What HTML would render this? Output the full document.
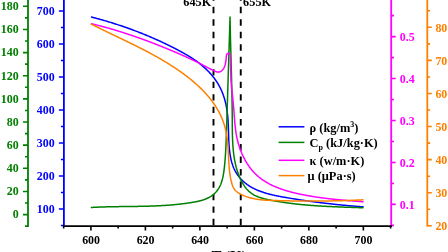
<!DOCTYPE html>
<html><head><meta charset="utf-8"><title>plot</title>
<style>html,body{margin:0;padding:0;background:#fff;overflow:hidden}svg{display:block;font-family:"Liberation Serif",serif;font-weight:bold;font-size:12.7px}</style></head><body>
<svg width="448" height="252" viewBox="0 0 448 252">
<rect width="448" height="252" fill="#fff"/>
<g stroke="#008000" stroke-width="1.6" fill="none"><path stroke-width="1.8" d="M28.0,-2V226.92"/><path d="M28.0,214.60h-5M28.0,191.46h-5M28.0,168.31h-5M28.0,145.17h-5M28.0,122.02h-5M28.0,98.88h-5M28.0,75.74h-5M28.0,52.59h-5M28.0,29.45h-5M28.0,6.30h-5M28.0,226.17h-3M28.0,203.03h-3M28.0,179.88h-3M28.0,156.74h-3M28.0,133.60h-3M28.0,110.45h-3M28.0,87.31h-3M28.0,64.16h-3M28.0,41.02h-3M28.0,17.88h-3M28.0,-5.27h-3"/></g>
<g fill="#008000" text-anchor="end"><text transform="translate(18.6 218.40) scale(.94 1)">0</text><text transform="translate(18.6 195.26) scale(.94 1)">20</text><text transform="translate(18.6 172.11) scale(.94 1)">40</text><text transform="translate(18.6 148.97) scale(.94 1)">60</text><text transform="translate(18.6 125.82) scale(.94 1)">80</text><text transform="translate(18.6 102.68) scale(.94 1)">100</text><text transform="translate(18.6 79.54) scale(.94 1)">120</text><text transform="translate(18.6 56.39) scale(.94 1)">140</text><text transform="translate(18.6 33.25) scale(.94 1)">160</text><text transform="translate(18.6 10.10) scale(.94 1)">180</text></g>
<g stroke="#0000ff" stroke-width="1.6" fill="none"><path stroke-width="1.8" d="M63.9,-2V226.8"/><path d="M63.9,209.00h-5M63.9,176.00h-5M63.9,143.00h-5M63.9,110.00h-5M63.9,77.00h-5M63.9,44.00h-5M63.9,11.00h-5M63.9,225.50h-3M63.9,192.50h-3M63.9,159.50h-3M63.9,126.50h-3M63.9,93.50h-3M63.9,60.50h-3M63.9,27.50h-3M63.9,-5.50h-3"/></g>
<g fill="#0000ff" text-anchor="end"><text transform="translate(54.6 213.35) scale(.94 1)">100</text><text transform="translate(54.6 180.35) scale(.94 1)">200</text><text transform="translate(54.6 147.35) scale(.94 1)">300</text><text transform="translate(54.6 114.35) scale(.94 1)">400</text><text transform="translate(54.6 81.35) scale(.94 1)">500</text><text transform="translate(54.6 48.35) scale(.94 1)">600</text><text transform="translate(54.6 15.35) scale(.94 1)">700</text></g>
<g stroke="#ff00ff" stroke-width="1.6" fill="none"><path stroke-width="1.8" d="M391.2,-2V226.8"/><path d="M391.2,204.40h4.5M391.2,162.45h4.5M391.2,120.50h4.5M391.2,78.55h4.5M391.2,36.60h4.5M391.2,225.38h2.8M391.2,183.43h2.8M391.2,141.48h2.8M391.2,99.53h2.8M391.2,57.58h2.8M391.2,15.62h2.8"/></g>
<g fill="#ff00ff"><text transform="translate(399.7 208.75) scale(.94 1)">0.1</text><text transform="translate(399.7 166.80) scale(.94 1)">0.2</text><text transform="translate(399.7 124.85) scale(.94 1)">0.3</text><text transform="translate(399.7 82.90) scale(.94 1)">0.4</text><text transform="translate(399.7 40.95) scale(.94 1)">0.5</text></g>
<g stroke="#ff8000" stroke-width="1.6" fill="none"><path stroke-width="1.8" d="M427.3,-2V226.55"/><path d="M427.3,225.80h4.5M427.3,192.72h4.5M427.3,159.64h4.5M427.3,126.56h4.5M427.3,93.48h4.5M427.3,60.40h4.5M427.3,27.32h4.5M427.3,209.26h2.8M427.3,176.18h2.8M427.3,143.10h2.8M427.3,110.02h2.8M427.3,76.94h2.8M427.3,43.86h2.8M427.3,10.78h2.8"/></g>
<g fill="#ff8000"><text transform="translate(435.4 230.15) scale(.94 1)">20</text><text transform="translate(435.4 197.07) scale(.94 1)">30</text><text transform="translate(435.4 163.99) scale(.94 1)">40</text><text transform="translate(435.4 130.91) scale(.94 1)">50</text><text transform="translate(435.4 97.83) scale(.94 1)">60</text><text transform="translate(435.4 64.75) scale(.94 1)">70</text><text transform="translate(435.4 31.67) scale(.94 1)">80</text></g>
<g stroke="#000" stroke-width="1.6" fill="none"><path stroke-width="1.9000000000000001" d="M63.05,226.1H392.05"/><path d="M90.90,226v4.6M145.39,226v4.6M199.88,226v4.6M254.37,226v4.6M308.86,226v4.6M363.35,226v4.6M63.66,226v2.4M118.15,226v2.4M172.63,226v2.4M227.12,226v2.4M281.62,226v2.4M336.11,226v2.4M390.60,226v2.4"/><path d="M213.50,-5.6V226" stroke-dasharray="6.4 6.07" stroke-width="1.9"/><path d="M240.75,-5.6V226" stroke-dasharray="6.4 6.07" stroke-width="1.9"/></g>
<g fill="#000" text-anchor="middle"><text transform="translate(91.10 244.35) scale(.94 1)">600</text><text transform="translate(145.59 244.35) scale(.94 1)">620</text><text transform="translate(200.08 244.35) scale(.94 1)">640</text><text transform="translate(254.57 244.35) scale(.94 1)">660</text><text transform="translate(309.06 244.35) scale(.94 1)">680</text><text transform="translate(363.55 244.35) scale(.94 1)">700</text><text x="211.5" y="261" style="font-size:15px" text-anchor="start">T (K)</text></g>
<text x="211.3" y="5.7" text-anchor="end" fill="#000" style="font-size:12.3px">645K</text><text x="243.1" y="5.7" fill="#000" style="font-size:12.3px">655K</text>
<g fill="none" stroke-width="1.5" stroke-linejoin="round" stroke-linecap="butt">
<path stroke="#0000ff" d="M90.90,16.91L91.62,17.10L92.35,17.29L93.07,17.47L93.80,17.66L94.52,17.85L95.25,18.04L95.97,18.24L96.70,18.43L97.42,18.63L98.14,18.82L98.86,19.02L99.59,19.22L100.31,19.42L101.03,19.62L101.75,19.83L102.47,20.03L103.19,20.24L103.91,20.45L104.63,20.65L105.35,20.86L106.07,21.08L106.79,21.29L107.51,21.50L108.23,21.72L108.95,21.93L109.66,22.15L110.38,22.37L111.10,22.59L111.81,22.81L112.53,23.03L113.24,23.26L113.96,23.48L114.67,23.71L115.39,23.94L116.10,24.17L116.82,24.40L117.53,24.63L118.24,24.86L118.95,25.10L119.66,25.34L120.38,25.57L121.09,25.81L121.80,26.05L122.51,26.29L123.22,26.53L123.93,26.78L124.63,27.02L125.34,27.27L126.05,27.52L126.76,27.77L127.46,28.02L128.17,28.27L128.87,28.52L129.58,28.77L130.28,29.03L130.99,29.29L131.69,29.54L132.40,29.80L133.10,30.06L133.80,30.33L134.50,30.59L135.20,30.85L135.91,31.12L136.61,31.39L137.31,31.65L138.00,31.92L138.70,32.19L139.40,32.47L140.10,32.74L140.80,33.02L141.49,33.29L142.19,33.57L142.88,33.85L143.58,34.13L144.27,34.41L144.97,34.69L145.66,34.97L146.35,35.26L147.05,35.55L147.74,35.83L148.43,36.12L149.12,36.41L149.81,36.70L150.50,37.00L151.19,37.29L151.88,37.59L152.56,37.88L153.25,38.18L153.94,38.48L154.62,38.78L155.31,39.08L155.99,39.39L156.68,39.69L157.36,40.00L158.04,40.30L158.73,40.61L159.41,40.92L160.09,41.23L160.77,41.55L161.45,41.86L162.13,42.18L162.81,42.49L163.48,42.81L164.16,43.13L164.84,43.45L165.51,43.77L166.19,44.10L166.86,44.42L167.53,44.75L168.21,45.08L168.88,45.41L169.55,45.74L170.22,46.07L170.89,46.41L171.56,46.74L172.23,47.08L172.90,47.42L173.56,47.76L174.23,48.10L174.90,48.45L175.56,48.79L176.23,49.14L176.89,49.49L177.55,49.84L178.21,50.19L178.87,50.55L179.53,50.90L180.19,51.26L180.85,51.62L181.51,51.98L182.17,52.34L182.82,52.70L183.48,53.07L184.13,53.44L184.78,53.81L185.44,54.18L186.09,54.55L186.74,54.93L187.39,55.31L188.03,55.69L188.68,56.07L189.32,56.46L189.96,56.85L190.60,57.25L191.24,57.64L191.87,58.05L192.50,58.45L193.13,58.86L193.76,59.28L194.38,59.69L195.00,60.12L195.62,60.55L196.24,60.98L196.85,61.42L197.46,61.86L198.06,62.31L198.66,62.76L199.26,63.22L199.85,63.68L200.44,64.15L201.03,64.62L201.61,65.10L202.19,65.59L202.76,66.08L203.33,66.57L203.90,67.07L204.46,67.57L205.01,68.08L205.56,68.59L206.11,69.11L206.65,69.64L207.18,70.17L207.71,70.70L208.24,71.24L208.76,71.78L209.27,72.33L209.78,72.88L210.28,73.44L210.78,74.00L211.27,74.56L211.76,75.13L212.24,75.71L212.71,76.29L213.17,76.87L213.63,77.46L214.09,78.06L214.54,78.65L214.97,79.26L215.41,79.86L215.83,80.48L216.25,81.09L216.67,81.71L217.07,82.34L217.47,82.96L217.86,83.60L218.24,84.23L218.61,84.88L218.98,85.52L219.34,86.17L219.69,86.83L220.03,87.48L220.37,88.15L220.70,88.81L221.01,89.48L221.32,90.16L221.63,90.84L221.92,91.52L222.20,92.21L222.48,92.90L222.75,93.59L223.01,94.29L223.26,94.99L223.51,95.69L223.75,96.40L223.98,97.11L224.20,97.82L224.42,98.53L224.63,99.25L224.83,99.97L225.02,100.69L225.21,101.42L225.39,102.15L225.57,102.88L225.74,103.61L225.90,104.34L226.06,105.07L226.21,105.81L226.35,106.55L226.49,107.29L226.62,108.03L226.75,108.77L226.87,109.52L226.98,110.26L227.09,111.01L227.19,111.76L227.29,112.50L227.39,113.25L227.48,114.00L227.56,114.75L227.64,115.50L227.71,116.25L227.78,117.00L227.85,117.75L227.91,118.50L227.96,119.25L228.02,120.00L228.07,120.75L228.11,121.50L228.15,122.25L228.19,123.00L228.23,123.75L228.26,124.50L228.30,125.25L228.33,126.00L228.35,126.75L228.38,127.50L228.41,128.25L228.43,129.00L228.45,129.75L228.47,130.50L228.50,131.25L228.52,132.00L228.54,132.75L228.56,133.50L228.58,134.25L228.60,135.00L228.63,135.75L228.65,136.50L228.68,137.26L228.70,138.01L228.73,138.76L228.76,139.51L228.79,140.26L228.83,141.01L228.86,141.76L228.90,142.51L228.95,143.26L228.99,144.01L229.04,144.77L229.10,145.52L229.15,146.27L229.21,147.02L229.28,147.77L229.35,148.52L229.42,149.28L229.50,150.03L229.59,150.78L229.68,151.53L229.77,152.28L229.88,153.04L229.98,153.79L230.10,154.54L230.22,155.29L230.35,156.04L230.48,156.79L230.62,157.53L230.78,158.27L230.93,159.02L231.10,159.75L231.28,160.49L231.46,161.22L231.66,161.95L231.86,162.68L232.08,163.40L232.30,164.11L232.54,164.82L232.78,165.53L233.04,166.23L233.31,166.93L233.58,167.62L233.88,168.30L234.18,168.97L234.50,169.64L234.83,170.31L235.17,170.96L235.52,171.61L235.89,172.25L236.27,172.88L236.66,173.50L237.06,174.12L237.48,174.73L237.90,175.32L238.34,175.91L238.79,176.50L239.25,177.07L239.72,177.63L240.19,178.19L240.68,178.74L241.18,179.27L241.69,179.80L242.20,180.32L242.73,180.83L243.26,181.33L243.81,181.82L244.36,182.30L244.92,182.77L245.48,183.23L246.06,183.68L246.64,184.12L247.22,184.55L247.82,184.97L248.42,185.38L249.03,185.78L249.64,186.17L250.27,186.55L250.89,186.92L251.53,187.29L252.17,187.65L252.81,187.99L253.47,188.33L254.12,188.67L254.79,188.99L255.45,189.31L256.13,189.61L256.81,189.91L257.49,190.21L258.18,190.49L258.87,190.77L259.56,191.05L260.26,191.31L260.97,191.57L261.68,191.82L262.39,192.07L263.11,192.31L263.83,192.55L264.55,192.77L265.28,193.00L266.00,193.22L266.74,193.43L267.47,193.64L268.21,193.84L268.95,194.04L269.69,194.23L270.44,194.42L271.18,194.60L271.93,194.78L272.68,194.96L273.43,195.13L274.19,195.30L274.94,195.46L275.70,195.62L276.46,195.78L277.21,195.94L277.97,196.09L278.73,196.24L279.49,196.38L280.25,196.53L281.01,196.67L281.77,196.81L282.53,196.95L283.29,197.08L284.05,197.22L284.81,197.35L285.56,197.48L286.32,197.61L287.08,197.74L287.83,197.87L288.58,198.00L289.34,198.12L290.09,198.25L290.84,198.37L291.59,198.50L292.34,198.62L293.08,198.74L293.83,198.86L294.57,198.98L295.32,199.10L296.06,199.22L296.81,199.34L297.55,199.45L298.29,199.57L299.03,199.68L299.77,199.80L300.51,199.91L301.25,200.02L301.99,200.13L302.72,200.24L303.46,200.35L304.19,200.46L304.93,200.57L305.67,200.68L306.40,200.78L307.13,200.89L307.87,200.99L308.60,201.10L309.33,201.20L310.07,201.30L310.80,201.40L311.53,201.50L312.26,201.60L312.99,201.70L313.72,201.80L314.46,201.90L315.19,201.99L315.92,202.09L316.65,202.18L317.38,202.28L318.11,202.37L318.84,202.47L319.57,202.56L320.30,202.65L321.03,202.74L321.76,202.83L322.49,202.92L323.22,203.01L323.95,203.10L324.68,203.18L325.41,203.27L326.14,203.36L326.88,203.44L327.61,203.53L328.34,203.61L329.07,203.69L329.80,203.77L330.54,203.86L331.27,203.94L332.01,204.02L332.74,204.10L333.48,204.18L334.21,204.26L334.95,204.33L335.68,204.41L336.42,204.49L337.16,204.56L337.90,204.64L338.64,204.71L339.38,204.79L340.12,204.86L340.86,204.93L341.60,205.01L342.34,205.08L343.09,205.15L343.83,205.22L344.58,205.29L345.32,205.36L346.07,205.43L346.82,205.49L347.57,205.56L348.32,205.63L349.07,205.70L349.82,205.76L350.58,205.83L351.33,205.89L352.09,205.96L352.84,206.02L353.60,206.08L354.36,206.15L355.12,206.21L355.88,206.27L356.65,206.33L357.41,206.39L358.18,206.45L358.94,206.51L359.71,206.57L360.48,206.63L361.25,206.69L362.03,206.74L362.80,206.80L363.58,206.86"/>
<path stroke="#008000" d="M90.80,207.51L91.42,207.47L92.04,207.44L92.66,207.40L93.28,207.37L93.91,207.34L94.53,207.31L95.15,207.28L95.77,207.25L96.38,207.22L97.00,207.19L97.62,207.17L98.24,207.14L98.86,207.11L99.48,207.09L100.09,207.07L100.71,207.04L101.33,207.02L101.94,207.00L102.56,206.98L103.17,206.96L103.79,206.94L104.40,206.92L105.02,206.90L105.63,206.89L106.25,206.87L106.86,206.85L107.47,206.84L108.09,206.82L108.70,206.81L109.31,206.79L109.92,206.78L110.54,206.77L111.15,206.75L111.76,206.74L112.37,206.73L112.98,206.72L113.59,206.71L114.21,206.70L114.82,206.69L115.43,206.68L116.04,206.67L116.65,206.66L117.26,206.65L117.87,206.64L118.48,206.63L119.09,206.62L119.69,206.61L120.30,206.60L120.91,206.60L121.52,206.59L122.13,206.58L122.74,206.57L123.35,206.57L123.95,206.56L124.56,206.55L125.17,206.55L125.78,206.54L126.39,206.53L126.99,206.52L127.60,206.52L128.21,206.51L128.81,206.50L129.42,206.50L130.03,206.49L130.64,206.48L131.24,206.48L131.85,206.47L132.46,206.46L133.06,206.45L133.67,206.44L134.28,206.44L134.88,206.43L135.49,206.42L136.10,206.41L136.70,206.40L137.31,206.39L137.91,206.38L138.52,206.37L139.13,206.36L139.73,206.35L140.34,206.34L140.95,206.33L141.55,206.32L142.16,206.31L142.77,206.30L143.37,206.28L143.98,206.27L144.59,206.26L145.19,206.24L145.80,206.23L146.41,206.21L147.01,206.20L147.62,206.18L148.23,206.16L148.83,206.14L149.44,206.13L150.05,206.11L150.66,206.09L151.26,206.07L151.87,206.05L152.48,206.03L153.09,206.00L153.69,205.98L154.30,205.96L154.91,205.93L155.52,205.91L156.13,205.88L156.73,205.86L157.34,205.83L157.95,205.80L158.56,205.77L159.17,205.74L159.78,205.71L160.39,205.68L161.00,205.64L161.61,205.61L162.22,205.58L162.83,205.54L163.44,205.50L164.05,205.47L164.66,205.43L165.27,205.39L165.88,205.35L166.49,205.31L167.10,205.26L167.72,205.22L168.33,205.17L168.94,205.13L169.55,205.08L170.17,205.03L170.78,204.98L171.39,204.93L172.01,204.88L172.62,204.82L173.23,204.77L173.85,204.71L174.46,204.66L175.08,204.60L175.69,204.54L176.31,204.48L176.93,204.41L177.54,204.35L178.16,204.29L178.78,204.22L179.39,204.15L180.01,204.08L180.63,204.01L181.25,203.94L181.87,203.86L182.49,203.79L183.10,203.71L183.72,203.63L184.34,203.55L184.97,203.47L185.59,203.39L186.21,203.30L186.83,203.21L187.45,203.13L188.07,203.04L188.70,202.94L189.32,202.85L189.94,202.76L190.57,202.66L191.19,202.56L191.82,202.46L192.44,202.36L193.07,202.25L193.69,202.14L194.31,202.03L194.93,201.92L195.55,201.80L196.17,201.68L196.79,201.55L197.40,201.42L198.02,201.29L198.63,201.15L199.23,201.00L199.84,200.85L200.44,200.70L201.04,200.54L201.63,200.37L202.22,200.20L202.80,200.01L203.39,199.83L203.96,199.63L204.53,199.43L205.10,199.22L205.66,199.00L206.21,198.78L206.76,198.54L207.30,198.30L207.84,198.05L208.37,197.79L208.89,197.52L209.40,197.24L209.91,196.95L210.41,196.65L210.90,196.34L211.38,196.02L211.86,195.69L212.32,195.35L212.78,195.00L213.23,194.64L213.67,194.26L214.10,193.88L214.52,193.49L214.94,193.09L215.34,192.68L215.74,192.26L216.12,191.84L216.50,191.40L216.86,190.95L217.22,190.50L217.56,190.03L217.90,189.56L218.22,189.08L218.54,188.60L218.84,188.10L219.14,187.60L219.42,187.08L219.69,186.56L219.95,186.04L220.20,185.50L220.45,184.96L220.68,184.42L220.90,183.86L221.12,183.31L221.32,182.74L221.52,182.17L221.71,181.59L221.89,181.01L222.06,180.43L222.23,179.84L222.39,179.24L222.54,178.64L222.68,178.04L222.82,177.43L222.96,176.82L223.08,176.21L223.20,175.60L223.32,174.98L223.43,174.36L223.53,173.73L223.63,173.11L223.73,172.48L223.82,171.85L223.91,171.23L223.99,170.59L224.07,169.96L224.15,169.33L224.23,168.70L224.30,168.07L224.37,167.44L224.44,166.81L224.50,166.18L224.57,165.55L224.63,164.92L224.69,164.29L224.75,163.67L224.81,163.04L224.86,162.42L224.92,161.79L224.97,161.17L225.02,160.55L225.07,159.93L225.12,159.31L225.17,158.69L225.22,158.07L225.26,157.45L225.31,156.83L225.35,156.21L225.39,155.60L225.43,154.98L225.47,154.37L225.51,153.75L225.55,153.14L225.58,152.52L225.62,151.91L225.65,151.30L225.69,150.69L225.72,150.07L225.75,149.46L225.78,148.85L225.81,148.24L225.84,147.63L225.87,147.02L225.90,146.41L225.93,145.80L225.95,145.19L225.98,144.59L226.00,143.98L226.03,143.37L226.05,142.76L226.08,142.15L226.10,141.55L226.12,140.94L226.15,140.33L226.17,139.72L226.19,139.12L226.21,138.51L226.23,137.90L226.25,137.30L226.28,136.69L226.30,136.08L226.32,135.48L226.34,134.87L226.36,134.26L226.38,133.66L226.40,133.05L226.42,132.44L226.44,131.84L226.46,131.23L226.48,130.62L226.50,130.01L226.52,129.41L226.54,128.80L226.56,128.19L226.58,127.58L226.60,126.97L226.62,126.37L226.64,125.76L226.66,125.15L226.68,124.54L226.70,123.93L226.72,123.32L226.74,122.71L226.76,122.11L226.78,121.50L226.80,120.89L226.82,120.28L226.84,119.67L226.86,119.06L226.88,118.45L226.90,117.84L226.92,117.23L226.94,116.62L226.96,116.01L226.98,115.40L227.00,114.79L227.02,114.18L227.04,113.57L227.06,112.96L227.08,112.35L227.10,111.74L227.12,111.13L227.14,110.52L227.16,109.91L227.18,109.30L227.20,108.69L227.21,108.08L227.23,107.47L227.25,106.86L227.27,106.25L227.29,105.64L227.31,105.03L227.33,104.42L227.35,103.80L227.37,103.19L227.39,102.58L227.41,101.97L227.43,101.36L227.45,100.75L227.47,100.14L227.49,99.53L227.51,98.91L227.53,98.30L227.55,97.69L227.57,97.08L227.59,96.47L227.60,95.86L227.62,95.24L227.64,94.63L227.66,94.02L227.68,93.41L227.70,92.80L227.72,92.18L227.74,91.57L227.76,90.96L227.78,90.35L227.80,89.74L227.82,89.12L227.84,88.51L227.86,87.90L227.87,87.29L227.89,86.67L227.91,86.06L227.93,85.45L227.95,84.84L227.97,84.23L227.99,83.61L228.01,83.00L228.03,82.39L228.05,81.77L228.07,81.16L228.09,80.55L228.10,79.94L228.12,79.32L228.14,78.71L228.16,78.10L228.18,77.49L228.20,76.87L228.22,76.26L228.24,75.65L228.26,75.04L228.28,74.42L228.30,73.81L228.31,73.20L228.33,72.58L228.35,71.97L228.37,71.36L228.39,70.75L228.41,70.13L228.43,69.52L228.45,68.91L228.47,68.29L228.49,67.68L228.50,67.07L228.52,66.46L228.54,65.84L228.56,65.23L228.58,64.62L228.60,64.00L228.62,63.39L228.64,62.78L228.66,62.17L228.68,61.55L228.69,60.94L228.71,60.33L228.73,59.71L228.75,59.10L228.77,58.49L228.79,57.88L228.81,57.26L228.83,56.65L228.85,56.04L228.86,55.42L228.88,54.81L228.90,54.20L228.92,53.59L228.94,52.97L228.96,52.36L228.98,51.75L229.00,51.14L229.02,50.52L229.03,49.91L229.05,49.30L229.07,48.69L229.09,48.07L229.11,47.46L229.13,46.85L229.15,46.24L229.17,45.62L229.18,45.01L229.20,44.40L229.22,43.79L229.24,43.17L229.26,42.56L229.28,41.95L229.30,41.34L229.32,40.73L229.34,40.11L229.35,39.50L229.37,38.89L229.39,38.28L229.41,37.67L229.43,37.06L229.45,36.44L229.47,35.83L229.49,35.22L229.50,34.61L229.52,34.00L229.54,33.39L229.56,32.77L229.58,32.16L229.60,31.55L229.62,30.94L229.64,30.33L229.65,29.72L229.67,29.11L229.69,28.50L229.71,27.89L229.73,27.27L229.75,26.66L229.77,26.05L229.79,25.44L229.81,24.83L229.82,24.22L229.84,23.61L229.86,23.00L229.88,22.39L229.90,21.78L229.92,21.17L229.94,20.56L229.96,19.95L229.97,19.34L229.99,18.73L230.01,18.12L230.03,17.51L230.05,16.90L230.05,16.90L230.06,17.50L230.07,18.10L230.08,18.70L230.09,19.30L230.10,19.90L230.11,20.50L230.12,21.10L230.13,21.70L230.14,22.30L230.15,22.90L230.16,23.50L230.17,24.10L230.18,24.69L230.20,25.29L230.21,25.89L230.22,26.49L230.23,27.08L230.24,27.68L230.25,28.27L230.27,28.87L230.28,29.47L230.29,30.06L230.30,30.66L230.32,31.25L230.33,31.84L230.34,32.44L230.36,33.03L230.37,33.63L230.38,34.22L230.40,34.81L230.41,35.41L230.42,36.00L230.44,36.59L230.45,37.18L230.47,37.78L230.48,38.37L230.50,38.96L230.51,39.55L230.52,40.14L230.54,40.74L230.55,41.33L230.57,41.92L230.58,42.51L230.60,43.10L230.61,43.69L230.63,44.28L230.64,44.87L230.66,45.46L230.67,46.05L230.69,46.64L230.71,47.23L230.72,47.82L230.74,48.41L230.75,48.99L230.77,49.58L230.78,50.17L230.80,50.76L230.82,51.35L230.83,51.94L230.85,52.53L230.86,53.11L230.88,53.70L230.89,54.29L230.91,54.88L230.93,55.46L230.94,56.05L230.96,56.64L230.98,57.23L230.99,57.81L231.01,58.40L231.02,58.99L231.04,59.58L231.06,60.16L231.07,60.75L231.09,61.34L231.10,61.92L231.12,62.51L231.14,63.10L231.15,63.68L231.17,64.27L231.19,64.86L231.20,65.44L231.22,66.03L231.23,66.62L231.25,67.20L231.27,67.79L231.28,68.37L231.30,68.96L231.31,69.55L231.33,70.13L231.35,70.72L231.36,71.31L231.38,71.89L231.39,72.48L231.41,73.07L231.42,73.65L231.44,74.24L231.46,74.82L231.47,75.41L231.49,76.00L231.50,76.58L231.52,77.17L231.53,77.76L231.55,78.34L231.56,78.93L231.58,79.52L231.59,80.10L231.61,80.69L231.62,81.28L231.64,81.86L231.65,82.45L231.67,83.04L231.68,83.63L231.70,84.21L231.71,84.80L231.72,85.39L231.74,85.97L231.75,86.56L231.77,87.15L231.78,87.74L231.79,88.33L231.81,88.91L231.82,89.50L231.83,90.09L231.85,90.68L231.86,91.27L231.87,91.85L231.88,92.44L231.90,93.03L231.91,93.62L231.92,94.21L231.93,94.80L231.94,95.39L231.96,95.98L231.97,96.57L231.98,97.16L231.99,97.75L232.00,98.34L232.01,98.93L232.02,99.52L232.04,100.11L232.05,100.70L232.06,101.29L232.07,101.88L232.08,102.47L232.09,103.07L232.10,103.66L232.11,104.25L232.11,104.84L232.12,105.43L232.13,106.03L232.14,106.62L232.15,107.21L232.16,107.81L232.17,108.40L232.17,108.99L232.18,109.59L232.19,110.18L232.20,110.78L232.20,111.37L232.21,111.97L232.22,112.56L232.22,113.16L232.23,113.75L232.24,114.35L232.24,114.95L232.25,115.54L232.25,116.14L232.26,116.74L232.26,117.33L232.27,117.93L232.27,118.53L232.28,119.13L232.28,119.73L232.28,120.33L232.29,120.92L232.29,121.52L232.29,122.12L232.30,122.72L232.30,123.32L232.30,123.92L232.30,124.53L232.31,125.13L232.31,125.73L232.32,126.33L232.32,126.93L232.32,127.53L232.33,128.13L232.33,128.73L232.34,129.33L232.35,129.94L232.35,130.54L232.36,131.14L232.37,131.74L232.38,132.34L232.39,132.94L232.40,133.54L232.41,134.15L232.43,134.75L232.44,135.35L232.45,135.95L232.47,136.55L232.49,137.15L232.51,137.75L232.53,138.35L232.55,138.95L232.57,139.55L232.60,140.15L232.62,140.75L232.65,141.35L232.68,141.95L232.71,142.54L232.74,143.14L232.78,143.74L232.81,144.34L232.85,144.93L232.89,145.53L232.93,146.12L232.98,146.72L233.02,147.31L233.07,147.91L233.12,148.50L233.17,149.10L233.23,149.69L233.28,150.28L233.34,150.87L233.41,151.46L233.47,152.06L233.54,152.65L233.61,153.23L233.68,153.82L233.76,154.41L233.83,155.00L233.91,155.59L234.00,156.17L234.08,156.76L234.17,157.34L234.27,157.92L234.36,158.51L234.46,159.09L234.56,159.67L234.67,160.25L234.78,160.83L234.89,161.41L235.00,161.99L235.12,162.56L235.25,163.14L235.37,163.71L235.50,164.29L235.63,164.86L235.77,165.43L235.91,166.00L236.06,166.57L236.20,167.14L236.36,167.71L236.51,168.28L236.67,168.84L236.84,169.41L237.01,169.97L237.18,170.53L237.36,171.09L237.54,171.65L237.72,172.21L237.91,172.77L238.11,173.33L238.31,173.88L238.51,174.44L238.72,174.99L238.93,175.54L239.15,176.09L239.37,176.63L239.60,177.18L239.83,177.72L240.07,178.26L240.31,178.80L240.56,179.33L240.81,179.86L241.07,180.39L241.33,180.92L241.60,181.44L241.88,181.95L242.16,182.46L242.45,182.97L242.74,183.47L243.04,183.97L243.34,184.46L243.66,184.95L243.97,185.43L244.30,185.91L244.63,186.38L244.97,186.84L245.31,187.30L245.66,187.75L246.02,188.19L246.38,188.63L246.75,189.06L247.13,189.48L247.52,189.89L247.91,190.30L248.31,190.70L248.71,191.09L249.13,191.47L249.55,191.84L249.98,192.20L250.42,192.56L250.86,192.90L251.31,193.24L251.78,193.56L252.24,193.88L252.72,194.19L253.21,194.48L253.70,194.77L254.20,195.05L254.70,195.31L255.22,195.57L255.74,195.82L256.26,196.07L256.79,196.30L257.33,196.53L257.87,196.75L258.42,196.96L258.97,197.16L259.53,197.36L260.10,197.55L260.66,197.74L261.23,197.92L261.81,198.09L262.39,198.26L262.97,198.42L263.55,198.58L264.14,198.73L264.73,198.88L265.32,199.03L265.92,199.17L266.51,199.31L267.11,199.44L267.71,199.57L268.31,199.70L268.92,199.82L269.52,199.94L270.12,200.06L270.72,200.18L271.33,200.29L271.93,200.41L272.53,200.52L273.13,200.63L273.73,200.74L274.33,200.85L274.94,200.96L275.54,201.06L276.13,201.17L276.73,201.27L277.33,201.37L277.93,201.48L278.53,201.57L279.13,201.67L279.72,201.77L280.32,201.87L280.92,201.96L281.51,202.05L282.11,202.15L282.71,202.24L283.30,202.33L283.90,202.42L284.49,202.50L285.08,202.59L285.68,202.67L286.27,202.76L286.86,202.84L287.46,202.92L288.05,203.00L288.64,203.08L289.23,203.16L289.83,203.24L290.42,203.32L291.01,203.39L291.60,203.47L292.19,203.54L292.78,203.61L293.37,203.68L293.96,203.75L294.55,203.82L295.14,203.89L295.73,203.96L296.32,204.02L296.91,204.09L297.50,204.15L298.09,204.22L298.67,204.28L299.26,204.34L299.85,204.40L300.44,204.46L301.03,204.52L301.61,204.58L302.20,204.64L302.79,204.69L303.37,204.75L303.96,204.80L304.55,204.86L305.14,204.91L305.72,204.96L306.31,205.01L306.89,205.06L307.48,205.11L308.07,205.16L308.65,205.21L309.24,205.26L309.82,205.30L310.41,205.35L311.00,205.40L311.58,205.44L312.17,205.48L312.75,205.53L313.34,205.57L313.92,205.61L314.51,205.65L315.09,205.69L315.68,205.73L316.26,205.77L316.85,205.81L317.43,205.85L318.02,205.89L318.60,205.93L319.19,205.96L319.77,206.00L320.36,206.03L320.94,206.07L321.53,206.10L322.12,206.14L322.70,206.17L323.29,206.20L323.87,206.23L324.46,206.27L325.04,206.30L325.63,206.33L326.21,206.36L326.80,206.39L327.39,206.42L327.97,206.45L328.56,206.48L329.14,206.50L329.73,206.53L330.32,206.56L330.90,206.59L331.49,206.61L332.08,206.64L332.66,206.67L333.25,206.69L333.84,206.72L334.42,206.74L335.01,206.77L335.60,206.79L336.19,206.82L336.77,206.84L337.36,206.86L337.95,206.89L338.54,206.91L339.13,206.93L339.72,206.96L340.31,206.98L340.89,207.00L341.48,207.02L342.07,207.04L342.66,207.07L343.25,207.09L343.84,207.11L344.44,207.13L345.03,207.15L345.62,207.17L346.21,207.19L346.80,207.22L347.39,207.24L347.99,207.26L348.58,207.28L349.17,207.30L349.76,207.32L350.36,207.34L350.95,207.36L351.55,207.38L352.14,207.40L352.73,207.42L353.33,207.44L353.92,207.46L354.52,207.48L355.12,207.50L355.71,207.52L356.31,207.55L356.91,207.57L357.50,207.59L358.10,207.61L358.70,207.63L359.30,207.65L359.90,207.67L360.50,207.69L361.10,207.71L361.70,207.74L362.30,207.76L362.90,207.78L363.50,207.80"/>
<path stroke="#ff00ff" d="M90.83,23.59L91.32,23.70L91.81,23.82L92.30,23.93L92.79,24.05L93.28,24.17L93.77,24.29L94.26,24.41L94.75,24.53L95.24,24.65L95.73,24.77L96.22,24.89L96.70,25.01L97.19,25.14L97.68,25.26L98.17,25.38L98.66,25.51L99.14,25.63L99.63,25.76L100.12,25.89L100.60,26.01L101.09,26.14L101.57,26.27L102.06,26.40L102.55,26.53L103.03,26.66L103.52,26.79L104.00,26.92L104.49,27.05L104.97,27.18L105.45,27.31L105.94,27.45L106.42,27.58L106.91,27.71L107.39,27.85L107.87,27.99L108.35,28.12L108.84,28.26L109.32,28.39L109.80,28.53L110.28,28.67L110.77,28.81L111.25,28.95L111.73,29.09L112.21,29.23L112.69,29.37L113.17,29.51L113.65,29.65L114.13,29.79L114.61,29.94L115.09,30.08L115.57,30.22L116.05,30.37L116.53,30.51L117.01,30.66L117.49,30.81L117.97,30.95L118.45,31.10L118.92,31.25L119.40,31.39L119.88,31.54L120.36,31.69L120.83,31.84L121.31,31.99L121.79,32.14L122.27,32.29L122.74,32.44L123.22,32.60L123.70,32.75L124.17,32.90L124.65,33.06L125.12,33.21L125.60,33.36L126.07,33.52L126.55,33.67L127.03,33.83L127.50,33.99L127.98,34.14L128.45,34.30L128.92,34.46L129.40,34.62L129.87,34.78L130.35,34.93L130.82,35.09L131.29,35.25L131.77,35.42L132.24,35.58L132.71,35.74L133.19,35.90L133.66,36.06L134.13,36.23L134.61,36.39L135.08,36.55L135.55,36.72L136.02,36.88L136.49,37.05L136.97,37.21L137.44,37.38L137.91,37.54L138.38,37.71L138.85,37.88L139.32,38.05L139.79,38.22L140.27,38.38L140.74,38.55L141.21,38.72L141.68,38.89L142.15,39.06L142.62,39.23L143.09,39.40L143.56,39.58L144.03,39.75L144.50,39.92L144.97,40.09L145.44,40.27L145.91,40.44L146.37,40.61L146.84,40.79L147.31,40.96L147.78,41.14L148.25,41.31L148.72,41.49L149.19,41.67L149.66,41.84L150.12,42.02L150.59,42.20L151.06,42.38L151.53,42.56L152.00,42.73L152.46,42.91L152.93,43.09L153.40,43.27L153.87,43.45L154.33,43.63L154.80,43.82L155.27,44.00L155.74,44.18L156.20,44.36L156.67,44.54L157.14,44.73L157.60,44.91L158.07,45.09L158.54,45.28L159.00,45.46L159.47,45.65L159.94,45.83L160.40,46.02L160.87,46.20L161.33,46.39L161.80,46.58L162.27,46.76L162.73,46.95L163.20,47.14L163.66,47.33L164.13,47.52L164.59,47.70L165.06,47.89L165.52,48.08L165.99,48.27L166.46,48.46L166.92,48.65L167.39,48.84L167.85,49.03L168.32,49.23L168.78,49.42L169.25,49.61L169.71,49.80L170.18,49.99L170.64,50.19L171.10,50.38L171.57,50.57L172.03,50.77L172.50,50.96L172.96,51.16L173.43,51.35L173.89,51.55L174.35,51.74L174.82,51.94L175.28,52.14L175.74,52.33L176.21,52.53L176.67,52.73L177.13,52.93L177.59,53.13L178.06,53.33L178.52,53.52L178.98,53.72L179.44,53.93L179.90,54.13L180.36,54.33L180.82,54.53L181.29,54.73L181.75,54.93L182.21,55.14L182.67,55.34L183.12,55.55L183.58,55.75L184.04,55.96L184.50,56.16L184.96,56.37L185.42,56.57L185.87,56.78L186.33,56.99L186.79,57.20L187.24,57.41L187.70,57.61L188.16,57.82L188.61,58.04L189.06,58.25L189.52,58.46L189.97,58.67L190.43,58.88L190.88,59.10L191.33,59.31L191.78,59.52L192.24,59.74L192.69,59.95L193.14,60.17L193.59,60.39L194.04,60.60L194.49,60.82L194.94,61.04L195.38,61.26L195.83,61.48L196.28,61.70L196.72,61.92L197.17,62.14L197.62,62.37L198.06,62.59L198.51,62.81L198.95,63.04L199.39,63.26L199.84,63.49L200.28,63.71L200.72,63.94L201.16,64.17L201.60,64.40L202.04,64.63L202.48,64.86L202.92,65.09L203.35,65.32L203.79,65.55L204.23,65.78L204.66,66.02L205.10,66.25L205.54,66.48L205.98,66.71L206.41,66.95L206.85,67.18L207.29,67.41L207.73,67.64L208.17,67.87L208.61,68.10L209.06,68.33L209.50,68.56L209.95,68.79L210.40,69.02L210.85,69.24L211.30,69.47L211.75,69.69L212.21,69.91L212.67,70.13L213.13,70.35L213.60,70.56L214.06,70.78L214.54,70.99L215.01,71.20L215.49,71.40L215.97,71.60L216.45,71.77L216.94,71.92L217.42,72.03L217.91,72.10L218.40,72.11L218.89,72.06L219.38,71.95L219.86,71.79L220.33,71.58L220.78,71.34L221.22,71.06L221.63,70.75L222.02,70.42L222.38,70.07L222.72,69.70L223.04,69.31L223.34,68.90L223.61,68.48L223.87,68.04L224.10,67.59L224.32,67.14L224.51,66.67L224.69,66.20L224.85,65.72L225.00,65.24L225.13,64.75L225.26,64.27L225.37,63.77L225.47,63.28L225.56,62.79L225.65,62.31L225.73,61.82L225.81,61.33L225.88,60.85L225.95,60.36L226.01,59.87L226.07,59.38L226.12,58.88L226.17,58.38L226.22,57.87L226.26,57.35L226.31,56.82L226.35,56.29L226.41,55.76L226.50,55.25L226.63,54.76L226.83,54.30L227.10,53.90L227.47,53.56L227.91,53.31L228.41,53.21L228.94,53.29L229.44,53.53L229.82,53.88L230.05,54.30L230.17,54.77L230.22,55.26L230.26,55.77L230.29,56.27L230.32,56.77L230.35,57.27L230.37,57.78L230.40,58.28L230.42,58.78L230.45,59.28L230.47,59.79L230.49,60.29L230.50,60.79L230.52,61.29L230.54,61.80L230.55,62.30L230.56,62.80L230.58,63.30L230.59,63.80L230.60,64.30L230.61,64.81L230.62,65.31L230.63,65.81L230.64,66.31L230.64,66.81L230.65,67.31L230.66,67.82L230.67,68.32L230.68,68.82L230.68,69.32L230.69,69.82L230.70,70.32L230.71,70.82L230.72,71.32L230.73,71.82L230.74,72.33L230.75,72.83L230.76,73.33L230.77,73.83L230.78,74.33L230.80,74.83L230.81,75.33L230.83,75.83L230.84,76.33L230.86,76.83L230.88,77.33L230.90,77.83L230.93,78.33L230.95,78.83L230.98,79.33L231.00,79.83L231.03,80.33L231.06,80.83L231.09,81.33L231.13,81.83L231.16,82.33L231.20,82.83L231.24,83.33L231.28,83.83L231.32,84.33L231.36,84.83L231.41,85.33L231.45,85.83L231.50,86.32L231.54,86.82L231.59,87.32L231.64,87.82L231.69,88.32L231.74,88.82L231.79,89.32L231.84,89.82L231.90,90.32L231.95,90.82L232.00,91.32L232.06,91.82L232.11,92.31L232.16,92.81L232.22,93.31L232.27,93.81L232.33,94.31L232.38,94.81L232.44,95.31L232.50,95.81L232.55,96.31L232.61,96.81L232.66,97.31L232.71,97.81L232.77,98.31L232.82,98.80L232.88,99.30L232.93,99.80L232.98,100.30L233.03,100.80L233.08,101.30L233.13,101.80L233.18,102.30L233.23,102.80L233.28,103.30L233.33,103.80L233.37,104.30L233.42,104.80L233.46,105.30L233.51,105.80L233.55,106.30L233.59,106.80L233.63,107.30L233.67,107.80L233.71,108.30L233.75,108.80L233.79,109.30L233.83,109.80L233.87,110.30L233.91,110.80L233.94,111.30L233.98,111.80L234.02,112.30L234.06,112.80L234.09,113.30L234.13,113.80L234.16,114.29L234.20,114.79L234.24,115.29L234.27,115.79L234.31,116.29L234.35,116.79L234.39,117.28L234.42,117.78L234.46,118.28L234.50,118.78L234.54,119.27L234.58,119.77L234.62,120.27L234.66,120.76L234.70,121.26L234.74,121.76L234.78,122.25L234.82,122.75L234.87,123.24L234.91,123.74L234.96,124.23L235.01,124.73L235.06,125.22L235.11,125.72L235.16,126.21L235.21,126.71L235.27,127.20L235.33,127.70L235.38,128.19L235.44,128.69L235.50,129.18L235.57,129.67L235.63,130.17L235.70,130.66L235.77,131.15L235.84,131.65L235.91,132.14L235.99,132.63L236.07,133.12L236.15,133.62L236.23,134.11L236.32,134.60L236.40,135.09L236.49,135.59L236.59,136.08L236.68,136.57L236.78,137.06L236.88,137.55L236.99,138.05L237.10,138.54L237.21,139.03L237.32,139.52L237.43,140.01L237.55,140.50L237.68,140.99L237.80,141.48L237.93,141.97L238.06,142.46L238.19,142.95L238.33,143.44L238.47,143.93L238.61,144.41L238.76,144.90L238.91,145.38L239.06,145.87L239.21,146.35L239.37,146.84L239.53,147.32L239.70,147.80L239.86,148.28L240.03,148.76L240.20,149.24L240.38,149.71L240.56,150.19L240.74,150.67L240.92,151.14L241.11,151.61L241.30,152.08L241.50,152.55L241.69,153.02L241.89,153.49L242.09,153.96L242.30,154.42L242.51,154.88L242.72,155.34L242.93,155.80L243.15,156.26L243.37,156.72L243.59,157.17L243.82,157.62L244.05,158.08L244.28,158.52L244.52,158.97L244.75,159.42L245.00,159.86L245.24,160.30L245.49,160.74L245.74,161.18L245.99,161.61L246.25,162.05L246.51,162.48L246.77,162.90L247.03,163.33L247.30,163.75L247.57,164.17L247.85,164.59L248.12,165.01L248.41,165.42L248.69,165.83L248.98,166.24L249.26,166.65L249.56,167.05L249.85,167.45L250.15,167.85L250.45,168.25L250.76,168.64L251.07,169.03L251.38,169.41L251.69,169.80L252.01,170.18L252.33,170.56L252.65,170.93L252.98,171.30L253.31,171.67L253.64,172.03L253.97,172.40L254.31,172.75L254.65,173.11L255.00,173.46L255.34,173.81L255.69,174.15L256.05,174.49L256.40,174.83L256.76,175.17L257.13,175.50L257.49,175.82L257.86,176.15L258.23,176.47L258.61,176.78L258.98,177.10L259.36,177.41L259.75,177.71L260.13,178.01L260.52,178.31L260.91,178.61L261.31,178.90L261.70,179.19L262.10,179.48L262.51,179.76L262.91,180.04L263.32,180.32L263.73,180.59L264.14,180.86L264.55,181.13L264.97,181.39L265.39,181.65L265.81,181.91L266.23,182.16L266.66,182.42L267.09,182.66L267.52,182.91L267.95,183.15L268.38,183.39L268.82,183.63L269.26,183.86L269.70,184.10L270.14,184.32L270.59,184.55L271.03,184.77L271.48,184.99L271.93,185.21L272.38,185.43L272.84,185.64L273.29,185.85L273.75,186.06L274.21,186.26L274.67,186.46L275.13,186.66L275.59,186.86L276.06,187.06L276.52,187.25L276.99,187.44L277.46,187.63L277.93,187.81L278.40,187.99L278.88,188.18L279.35,188.35L279.83,188.53L280.31,188.70L280.78,188.88L281.26,189.04L281.74,189.21L282.23,189.38L282.71,189.54L283.19,189.70L283.68,189.86L284.16,190.02L284.65,190.17L285.14,190.33L285.63,190.48L286.12,190.63L286.61,190.77L287.10,190.92L287.59,191.06L288.08,191.20L288.57,191.34L289.07,191.48L289.56,191.62L290.05,191.75L290.55,191.89L291.04,192.02L291.54,192.15L292.04,192.28L292.53,192.40L293.03,192.53L293.53,192.65L294.03,192.77L294.52,192.89L295.02,193.01L295.52,193.13L296.02,193.25L296.52,193.36L297.01,193.47L297.51,193.59L298.01,193.70L298.51,193.81L299.01,193.91L299.51,194.02L300.01,194.13L300.50,194.23L301.00,194.34L301.50,194.44L302.00,194.54L302.49,194.64L302.99,194.74L303.49,194.84L303.98,194.93L304.48,195.03L304.97,195.12L305.47,195.22L305.96,195.31L306.46,195.40L306.95,195.49L307.45,195.58L307.94,195.67L308.43,195.76L308.93,195.85L309.42,195.93L309.91,196.02L310.41,196.10L310.90,196.19L311.39,196.27L311.88,196.35L312.38,196.43L312.87,196.51L313.36,196.59L313.85,196.67L314.34,196.75L314.83,196.82L315.33,196.90L315.82,196.97L316.31,197.05L316.80,197.12L317.29,197.19L317.78,197.26L318.27,197.33L318.76,197.40L319.25,197.47L319.74,197.54L320.23,197.61L320.72,197.68L321.21,197.74L321.70,197.81L322.19,197.87L322.68,197.94L323.18,198.00L323.67,198.06L324.16,198.13L324.65,198.19L325.14,198.25L325.63,198.31L326.12,198.37L326.61,198.43L327.10,198.49L327.59,198.55L328.08,198.60L328.57,198.66L329.06,198.72L329.55,198.77L330.04,198.83L330.53,198.88L331.03,198.94L331.52,198.99L332.01,199.04L332.50,199.10L332.99,199.15L333.48,199.20L333.98,199.25L334.47,199.30L334.96,199.35L335.46,199.40L335.95,199.45L336.44,199.50L336.93,199.55L337.43,199.60L337.92,199.65L338.42,199.70L338.91,199.74L339.41,199.79L339.90,199.84L340.40,199.88L340.89,199.93L341.39,199.97L341.88,200.02L342.38,200.06L342.88,200.11L343.37,200.15L343.87,200.20L344.37,200.24L344.86,200.28L345.36,200.33L345.86,200.37L346.36,200.41L346.86,200.46L347.36,200.50L347.86,200.54L348.36,200.58L348.86,200.63L349.36,200.67L349.86,200.71L350.37,200.75L350.87,200.79L351.37,200.83L351.88,200.87L352.38,200.91L352.88,200.96L353.39,201.00L353.89,201.04L354.40,201.08L354.91,201.12L355.41,201.16L355.92,201.20L356.43,201.24L356.94,201.28L357.44,201.32L357.95,201.36L358.46,201.40L358.97,201.44L359.49,201.48L360.00,201.52L360.51,201.56L361.02,201.60L361.54,201.64L362.05,201.69L362.56,201.73L363.08,201.77L363.60,201.81"/>
<path stroke="#ff8000" d="M90.83,23.90L91.51,24.24L92.18,24.58L92.85,24.92L93.52,25.26L94.20,25.60L94.87,25.93L95.54,26.27L96.22,26.60L96.89,26.93L97.56,27.26L98.23,27.60L98.91,27.93L99.58,28.26L100.25,28.59L100.92,28.91L101.59,29.24L102.26,29.57L102.94,29.89L103.61,30.22L104.28,30.55L104.95,30.87L105.62,31.20L106.29,31.52L106.96,31.84L107.63,32.17L108.30,32.49L108.97,32.81L109.64,33.13L110.31,33.45L110.98,33.77L111.64,34.09L112.31,34.42L112.98,34.74L113.65,35.06L114.32,35.38L114.98,35.70L115.65,36.01L116.32,36.33L116.98,36.65L117.65,36.97L118.32,37.29L118.98,37.61L119.65,37.93L120.31,38.25L120.98,38.57L121.64,38.89L122.31,39.21L122.97,39.53L123.63,39.85L124.30,40.17L124.96,40.49L125.62,40.81L126.28,41.13L126.95,41.45L127.61,41.77L128.27,42.09L128.93,42.41L129.59,42.74L130.25,43.06L130.91,43.38L131.57,43.71L132.23,44.03L132.89,44.36L133.55,44.68L134.20,45.01L134.86,45.33L135.52,45.66L136.18,45.99L136.83,46.32L137.49,46.64L138.14,46.97L138.80,47.30L139.45,47.64L140.11,47.97L140.76,48.30L141.41,48.63L142.07,48.97L142.72,49.30L143.37,49.64L144.02,49.98L144.67,50.31L145.32,50.65L145.97,50.99L146.62,51.33L147.27,51.68L147.92,52.02L148.57,52.36L149.22,52.71L149.87,53.06L150.51,53.40L151.16,53.75L151.80,54.10L152.45,54.45L153.09,54.81L153.74,55.16L154.38,55.52L155.02,55.87L155.67,56.23L156.31,56.59L156.95,56.95L157.59,57.31L158.23,57.68L158.87,58.04L159.51,58.41L160.15,58.78L160.78,59.15L161.42,59.52L162.06,59.89L162.69,60.27L163.33,60.64L163.96,61.02L164.60,61.40L165.23,61.78L165.86,62.17L166.50,62.55L167.13,62.94L167.76,63.33L168.39,63.72L169.02,64.11L169.65,64.51L170.28,64.90L170.90,65.30L171.53,65.70L172.16,66.11L172.78,66.51L173.41,66.92L174.03,67.33L174.66,67.74L175.28,68.15L175.90,68.57L176.52,68.98L177.14,69.40L177.76,69.83L178.38,70.25L179.00,70.68L179.61,71.10L180.23,71.54L180.84,71.97L181.45,72.40L182.07,72.84L182.68,73.28L183.28,73.72L183.89,74.17L184.49,74.61L185.10,75.06L185.70,75.51L186.30,75.97L186.90,76.42L187.49,76.88L188.09,77.34L188.68,77.81L189.27,78.27L189.85,78.74L190.44,79.21L191.02,79.68L191.60,80.16L192.18,80.64L192.76,81.12L193.33,81.60L193.90,82.09L194.47,82.58L195.03,83.07L195.60,83.56L196.15,84.05L196.71,84.55L197.26,85.05L197.82,85.56L198.36,86.06L198.91,86.57L199.45,87.08L199.99,87.60L200.52,88.11L201.05,88.63L201.58,89.15L202.10,89.68L202.62,90.20L203.14,90.73L203.65,91.27L204.16,91.80L204.67,92.34L205.17,92.88L205.67,93.43L206.16,93.97L206.65,94.52L207.13,95.07L207.62,95.63L208.09,96.19L208.57,96.75L209.03,97.31L209.50,97.87L209.96,98.44L210.41,99.02L210.86,99.59L211.31,100.17L211.75,100.75L212.18,101.33L212.61,101.92L213.04,102.51L213.46,103.10L213.88,103.70L214.29,104.29L214.69,104.90L215.09,105.50L215.49,106.11L215.88,106.72L216.26,107.33L216.64,107.95L217.02,108.57L217.38,109.19L217.75,109.82L218.10,110.44L218.45,111.08L218.80,111.71L219.14,112.35L219.47,112.99L219.80,113.64L220.12,114.28L220.43,114.93L220.74,115.59L221.04,116.25L221.34,116.91L221.63,117.57L221.91,118.24L222.19,118.91L222.46,119.58L222.72,120.26L222.98,120.94L223.23,121.62L223.47,122.31L223.71,123.00L223.94,123.69L224.16,124.39L224.37,125.09L224.58,125.79L224.78,126.50L224.98,127.21L225.16,127.92L225.34,128.64L225.51,129.36L225.68,130.08L225.84,130.81L225.99,131.54L226.13,132.27L226.27,133.00L226.41,133.74L226.53,134.48L226.65,135.22L226.77,135.97L226.88,136.71L226.99,137.46L227.09,138.21L227.18,138.96L227.28,139.71L227.36,140.47L227.45,141.22L227.53,141.98L227.60,142.74L227.67,143.49L227.74,144.25L227.81,145.01L227.87,145.77L227.93,146.53L227.98,147.29L228.04,148.05L228.09,148.81L228.14,149.57L228.19,150.33L228.23,151.09L228.28,151.85L228.32,152.61L228.36,153.36L228.40,154.12L228.44,154.88L228.48,155.63L228.52,156.38L228.56,157.13L228.60,157.88L228.64,158.63L228.68,159.38L228.72,160.12L228.76,160.86L228.80,161.60L228.84,162.34L228.88,163.08L228.93,163.81L228.98,164.54L229.02,165.26L229.07,165.99L229.13,166.71L229.18,167.43L229.24,168.15L229.31,168.87L229.37,169.59L229.44,170.30L229.52,171.02L229.60,171.73L229.68,172.44L229.77,173.15L229.87,173.87L229.97,174.58L230.08,175.29L230.20,176.01L230.32,176.72L230.45,177.44L230.58,178.15L230.73,178.87L230.88,179.59L231.05,180.31L231.22,181.03L231.40,181.76L231.59,182.48L231.79,183.21L232.00,183.95L232.22,184.67L232.47,185.40L232.73,186.11L233.02,186.81L233.33,187.49L233.68,188.15L234.06,188.78L234.48,189.38L234.93,189.95L235.43,190.49L235.95,191.00L236.51,191.48L237.09,191.94L237.69,192.37L238.31,192.79L238.95,193.18L239.59,193.56L240.24,193.92L240.90,194.27L241.55,194.61L242.22,194.93L242.88,195.24L243.55,195.54L244.23,195.83L244.91,196.10L245.59,196.37L246.27,196.62L246.96,196.86L247.65,197.09L248.35,197.31L249.05,197.53L249.75,197.73L250.46,197.92L251.16,198.10L251.87,198.27L252.59,198.44L253.30,198.59L254.02,198.74L254.74,198.88L255.46,199.01L256.19,199.13L256.92,199.25L257.65,199.36L258.38,199.46L259.11,199.56L259.84,199.65L260.58,199.73L261.32,199.81L262.06,199.88L262.80,199.95L263.54,200.02L264.28,200.07L265.03,200.13L265.77,200.18L266.52,200.22L267.27,200.27L268.01,200.30L268.76,200.34L269.51,200.37L270.26,200.40L271.01,200.43L271.76,200.46L272.51,200.48L273.25,200.50L274.00,200.53L274.75,200.55L275.50,200.57L276.25,200.58L277.00,200.60L277.75,200.62L278.49,200.64L279.24,200.66L279.99,200.68L280.73,200.69L281.48,200.71L282.22,200.73L282.97,200.74L283.71,200.76L284.46,200.77L285.20,200.79L285.94,200.80L286.68,200.82L287.43,200.83L288.17,200.85L288.91,200.86L289.65,200.87L290.39,200.88L291.14,200.90L291.88,200.91L292.62,200.92L293.36,200.93L294.10,200.94L294.84,200.95L295.57,200.96L296.31,200.97L297.05,200.98L297.79,200.99L298.53,201.00L299.27,201.01L300.01,201.01L300.74,201.02L301.48,201.03L302.22,201.03L302.95,201.04L303.69,201.05L304.43,201.05L305.17,201.06L305.90,201.06L306.64,201.06L307.37,201.07L308.11,201.07L308.85,201.07L309.58,201.07L310.32,201.07L311.05,201.08L311.79,201.08L312.52,201.08L313.26,201.08L314.00,201.08L314.73,201.07L315.47,201.07L316.20,201.07L316.94,201.07L317.67,201.06L318.41,201.06L319.14,201.06L319.88,201.05L320.61,201.05L321.35,201.04L322.08,201.03L322.82,201.03L323.55,201.02L324.29,201.01L325.02,201.00L325.76,200.99L326.50,200.98L327.23,200.97L327.97,200.96L328.70,200.95L329.44,200.94L330.17,200.93L330.91,200.92L331.65,200.90L332.38,200.89L333.12,200.87L333.86,200.86L334.59,200.84L335.33,200.83L336.07,200.81L336.80,200.79L337.54,200.78L338.28,200.76L339.02,200.74L339.76,200.72L340.49,200.70L341.23,200.68L341.97,200.66L342.71,200.64L343.45,200.61L344.19,200.59L344.93,200.57L345.67,200.54L346.41,200.52L347.15,200.49L347.89,200.47L348.63,200.44L349.37,200.41L350.11,200.38L350.86,200.35L351.60,200.32L352.34,200.29L353.08,200.26L353.83,200.23L354.57,200.20L355.32,200.17L356.06,200.13L356.81,200.10L357.55,200.07L358.30,200.03L359.04,199.99L359.79,199.96L360.54,199.92L361.28,199.88L362.03,199.84L362.78,199.80L363.53,199.76"/>
</g>
<g stroke-width="1.5" fill="none"><path stroke="#0000ff" d="M278.6,126.8H304.4"/><path stroke="#008000" d="M278.6,142.4H304.4"/><path stroke="#ff00ff" d="M278.6,160.3H304.4"/><path stroke="#ff8000" d="M278.6,175.6H304.4"/></g>
<g fill="#000" style="font-size:12.4px">
<text x="309.6" y="131.6">ρ (kg/m<tspan font-size="8" dy="-4.5">3</tspan><tspan dy="4.5">)</tspan></text>
<text x="309.6" y="147.3">C<tspan font-size="8" dy="2.5">p</tspan><tspan dy="-2.5"> (kJ/kg·K)</tspan></text>
<text x="309.6" y="164.6">κ (w/m·K)</text>
<text x="307.6" y="179.8">μ (μPa·s)</text>
</g>
</svg></body></html>
